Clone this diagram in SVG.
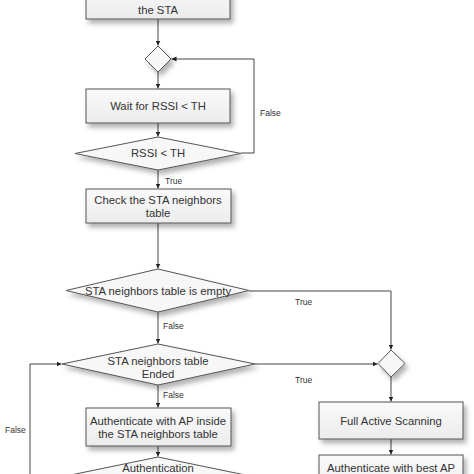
<svg xmlns="http://www.w3.org/2000/svg" width="474" height="474" viewBox="0 0 474 474">
<defs>
<style>
.box{fill:url(#g);stroke:#555;stroke-width:1}
.dia{fill:#f7f7f7;stroke:#555;stroke-width:1}
.t{font-family:"Liberation Sans",Arial,sans-serif;font-size:11.3px;fill:#333;text-anchor:middle}
.l{font-family:"Liberation Sans",Arial,sans-serif;font-size:8.5px;fill:#333}
.c{fill:none;stroke:#444;stroke-width:1}
</style>
<linearGradient id="g" x1="0" y1="0" x2="0" y2="1"><stop offset="0" stop-color="#fafafa"/><stop offset="1" stop-color="#ececec"/></linearGradient>
<filter id="sh" x="-20%" y="-30%" width="150%" height="180%"><feDropShadow dx="3" dy="4" stdDeviation="2.5" flood-color="#000" flood-opacity="0.3"/></filter>
<marker id="a" markerWidth="6" markerHeight="6" refX="5" refY="3" orient="auto" markerUnits="userSpaceOnUse"><path d="M0,0.5 L5,3 L0,5.5 z" fill="#222"/></marker>
</defs>
<g id="connectors">
<path class="c" d="M158,19 V45.5" marker-end="url(#a)"/>
<path class="c" d="M158,72 V88.5" marker-end="url(#a)"/>
<path class="c" d="M158,123 V136.5" marker-end="url(#a)"/>
<path class="c" d="M241,153 H254 V59 H171.5" marker-end="url(#a)"/>
<path class="c" d="M158,170 V188.5" marker-end="url(#a)"/>
<path class="c" d="M158,223 V268.5" marker-end="url(#a)"/>
<path class="c" d="M249,291 H391 V349.5" marker-end="url(#a)"/>
<path class="c" d="M158,312 V343.5" marker-end="url(#a)"/>
<path class="c" d="M255,364 H377.5" marker-end="url(#a)"/>
<path class="c" d="M391,377 V401.5" marker-end="url(#a)"/>
<path class="c" d="M391,439 V454.5" marker-end="url(#a)"/>
<path class="c" d="M158,385 V407.5" marker-end="url(#a)"/>
<path class="c" d="M158,446 V456.5" marker-end="url(#a)"/>
<path class="c" d="M30,480 V364 H61.5" marker-end="url(#a)"/>
<text class="l" x="260" y="116">False</text>
<text class="l" x="165" y="184">True</text>
<text class="l" x="295" y="305">True</text>
<text class="l" x="163" y="329">False</text>
<text class="l" x="295" y="383">True</text>
<text class="l" x="163" y="398">False</text>
<text class="l" x="5" y="433">False</text>
</g>
<g id="n1"><rect class="box" filter="url(#sh)" x="86" y="-20" width="144" height="39"/><text class="t" x="158" y="14">the STA</text></g>
<g id="n2"><polygon class="dia" filter="url(#sh)" points="158,46 171,59 158,72 145,59"/></g>
<g id="n3"><rect class="box" filter="url(#sh)" x="86" y="89" width="144" height="34"/><text class="t" x="158" y="110">Wait for RSSI &lt; TH</text></g>
<g id="n4"><polygon class="dia" filter="url(#sh)" points="158,137 241,153.5 158,170 75,153.5"/><text class="t" x="158" y="157">RSSI &lt; TH</text></g>
<g id="n5"><rect class="box" filter="url(#sh)" x="86" y="189" width="145" height="34"/><text class="t" x="158" y="204">Check the STA neighbors</text><text class="t" x="158" y="217">table</text></g>
<g id="n6"><polygon class="dia" filter="url(#sh)" points="158,269 249,290.5 158,312 66,290.5"/><text class="t" x="158" y="295">STA neighbors table is empty</text></g>
<g id="n7"><polygon class="dia" filter="url(#sh)" points="158,344 255,364 158,385 62,364"/><text class="t" x="158" y="365">STA neighbors table</text><text class="t" x="158" y="378">Ended</text></g>
<g id="n8"><polygon class="dia" filter="url(#sh)" points="391,350 405,363.5 391,377 378,363.5"/></g>
<g id="n9"><rect class="box" filter="url(#sh)" x="319" y="402" width="144" height="37"/><text class="t" x="391" y="425">Full Active Scanning</text></g>
<g id="n10"><rect class="box" filter="url(#sh)" x="319" y="455" width="144" height="40"/><text class="t" x="391" y="472">Authenticate with best AP</text></g>
<g id="n11"><rect class="box" filter="url(#sh)" x="86" y="408" width="145" height="38"/><text class="t" x="158" y="425">Authenticate with AP inside</text><text class="t" x="158" y="438">the STA neighbors table</text></g>
<g id="n12"><polygon class="dia" filter="url(#sh)" points="158,457 255,477 158,497 61,477"/><text class="t" x="158" y="472">Authentication</text></g>
</svg>
